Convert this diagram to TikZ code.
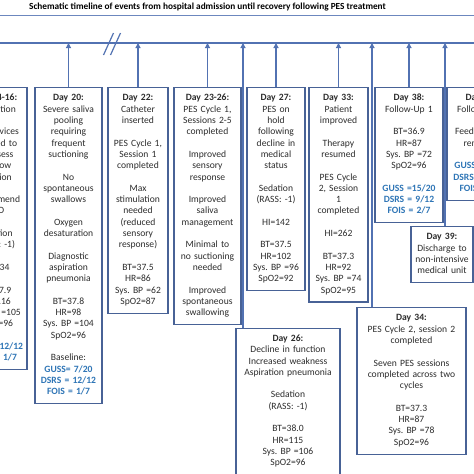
\documentclass[tikz,border=0pt]{standalone}
\usepackage{fontspec}
\setmainfont{Carlito}
\usetikzlibrary{arrows.meta}
\definecolor{boxcol}{RGB}{72,98,150}
\definecolor{linecol}{RGB}{82,114,178}
\definecolor{bluetxt}{RGB}{46,117,182}
\definecolor{bodytxt}{RGB}{45,45,45}
\newcommand{\gapline}{\\[11.3pt]}
\newcommand{\bluebold}[1]{\textcolor{bluetxt}{\textbf{#1}}}
\frenchspacing
\tikzset{
  daybox/.style={draw=boxcol, line width=1.1pt, fill=white, align=center,
    inner xsep=2pt, inner ysep=5.5pt, anchor=north,
    font=\fontsize{9.6}{11.3}\selectfont\frenchspacing, text=bodytxt,
    execute at begin node=\strut, execute at end node=\strut},
  conn/.style={draw=linecol, line width=1.1pt, -{Triangle[length=5pt,width=5pt]}},
  tline/.style={draw=linecol, line width=1.2pt},
}
\begin{document}
\begin{tikzpicture}[x=1pt,y=-1pt]
\useasboundingbox (0,0) rectangle (474,474);
\clip (0,0) rectangle (474,474);
\fill[white] (0,0) rectangle (474,474);

% title
\node[font=\fontsize{9.3}{11}\selectfont\bfseries, text=black, inner sep=0pt] (title) at (207.5,7.5)
  {Schematic timeline of events from hospital admission until recovery following PES treatment};
\coordinate (ul) at (0,15.5);
\coordinate (ur) at (474,15.5);
\draw[draw=linecol!85, line width=0.8pt] (ul) -- (ur);

% timeline
\coordinate (tl) at (0,43);
\coordinate (tr) at (474,43);
\draw[tline] (tl) -- (tr);
\coordinate (b1a) at (103.5,55); \coordinate (b1b) at (113.5,33);
\coordinate (b2a) at (110.5,55); \coordinate (b2b) at (120.5,33);
\draw[tline] (b1a) -- (b1b);
\draw[tline] (b2a) -- (b2b);

% arrow targets on the timeline
\coordinate (a20) at (68.5,43);
\coordinate (a22) at (138,43);
\coordinate (a2326) at (207.5,43);
\coordinate (a26) at (243,43);
\coordinate (a27) at (276,43);
\coordinate (a33) at (338.5,43);
\coordinate (a34) at (372,43);
\coordinate (a38) at (409,43);
\coordinate (a39) at (445,43);

% top row boxes
\node[daybox, text width=59pt] (d16) at (-4.5,87) {
\textbf{Day 14-16:}\\ Intubation\gapline
SLT services\\ referred to\\ to assess\\ swallow\\ function\gapline
Recommend\\ NPO\gapline
Sedation\\ (RASS: -1)\gapline
HI=134\gapline
BT=37.9\\ HR=116\\ Sys. BP =105\\ SpO2=96\gapline
\bluebold{DSRS = 12/12}\\ \bluebold{FOIS = 1/7}};

\node[daybox, text width=63pt] (d20) at (68.5,87) {
\textbf{Day 20:}\\ Severe saliva\\ pooling\\ requiring\\ frequent\\ suctioning\gapline
No\\ spontaneous\\ swallows\gapline
Oxygen\\ desaturation\gapline
Diagnostic\\ aspiration\\ pneumonia\gapline
BT=37.8\\ HR=98\\ Sys. BP =104\\ SpO2=96\gapline
Baseline:\\ \bluebold{GUSS= 7/20}\\ \bluebold{DSRS = 12/12}\\ \bluebold{FOIS = 1/7}};

\node[daybox, text width=56pt] (d22) at (138,87) {
\textbf{Day 22:}\\ Catheter\\ inserted\gapline
PES Cycle 1,\\ Session 1\\ completed\gapline
Max\\ stimulation\\ needed\\ (reduced\\ sensory\\ response)\gapline
BT=37.5\\ HR=86\\ Sys. BP =62\\ SpO2=87};

\node[daybox, text width=63pt] (d2326) at (207.5,87) {
\textbf{Day 23-26:}\\ PES Cycle 1,\\ Sessions 2-5\\ completed\gapline
Improved\\ sensory\\ response\gapline
Improved\\ saliva\\ management\gapline
Minimal to\\ no suctioning\\ needed\gapline
Improved\\ spontaneous\\ swallowing};

\node[daybox, text width=54pt] (d27) at (276,87) {
\textbf{Day 27:}\\ PES on\\ hold\\ following\\ decline in\\ medical\\ status\gapline
Sedation\\ (RASS: -1)\gapline
HI=142\gapline
BT=37.5\\ HR=102\\ Sys. BP =96\\ SpO2=92};

\node[daybox, text width=55pt] (d33) at (338.5,87) {
\textbf{Day 33:}\\ Patient\\ improved\gapline
Therapy\\ resumed\gapline
PES Cycle\\ 2, Session\\ 1\\ completed\gapline
HI=262\gapline
BT=37.3\\ HR=92\\ Sys. BP =74\\ SpO2=95};

\node[daybox, text width=64pt] (d38) at (409,87) {
\textbf{Day 38:}\\ Follow-Up 1\gapline
BT=36.9\\ HR=87\\ Sys. BP =72\\ SpO2=96\gapline
\bluebold{GUSS =15/20}\\ \bluebold{DSRS = 9/12}\\ \bluebold{FOIS = 2/7}};

\node[daybox, text width=64pt] (d45) at (481,87) {
\textbf{Day 45:}\\ Follow-Up 2\gapline
Feeding tube\\ removed\gapline
\bluebold{GUSS =20/20}\\ \bluebold{DSRS = 12/12}\\ \bluebold{FOIS = 7/7}};

% lower boxes
\node[daybox, text width=100pt] (d26) at (288,327.5) {
\textbf{Day 26:}\\ Decline in function\\ Increased weakness\\ Aspiration pneumonia\gapline
Sedation\\ (RASS: -1)\gapline
BT=38.0\\ HR=115\\ Sys. BP =106\\ SpO2=96};

\node[daybox, text width=105pt] (d34) at (411.5,307) {
\textbf{Day 34:}\\ PES Cycle 2, session 2\\ completed\gapline
Seven PES sessions\\ completed across two\\ cycles\gapline
BT=37.3\\ HR=87\\ Sys. BP =78\\ SpO2=96};

\node[daybox, text width=58pt] (d39) at (442,226) {
\textbf{Day 39:}\\ Discharge to\\ non-intensive\\ medical unit};

% connectors
\draw[conn] (d20.north) -- (a20);
\draw[conn] (d22.north) -- (a22);
\draw[conn] (d2326.north) -- (a2326);
\draw[conn] (d26.north -| a26) -- (a26);
\draw[conn] (d27.north) -- (a27);
\draw[conn] (d33.north) -- (a33);
\draw[conn] (d34.north -| a34) -- (a34);
\draw[conn] (d38.north) -- (a38);
\draw[conn] (d39.north -| a39) -- (a39);
\end{tikzpicture}
\end{document}
